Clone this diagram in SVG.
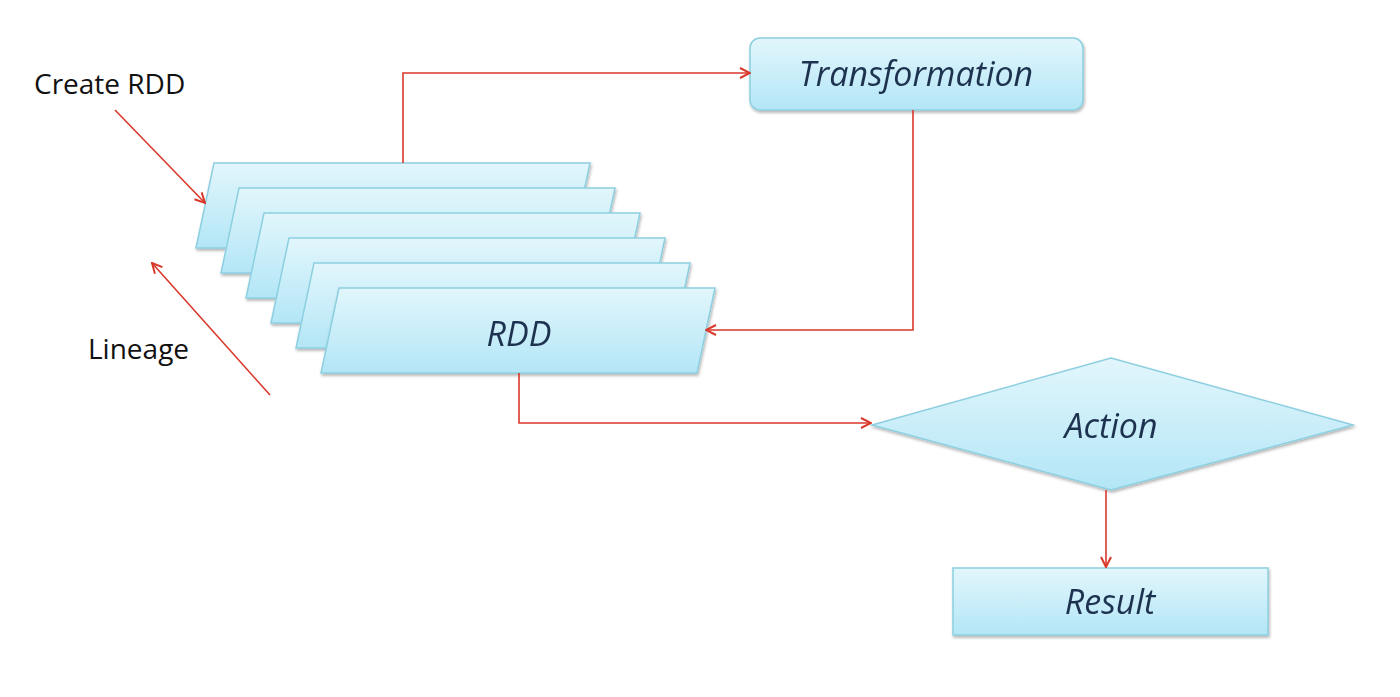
<svg xmlns="http://www.w3.org/2000/svg" width="1400" height="697" viewBox="0 0 1400 697">
<style>
.n{stroke:#8ccfe0;stroke-width:1.5}
.t{font-family:"Open Sans","Liberation Sans",sans-serif;font-style:italic;font-size:34px;fill:#1f3350;text-anchor:middle}
.l{font-family:"Open Sans","Liberation Sans",sans-serif;font-size:28px;fill:#111}
.c{fill:none;stroke:#d9392b;stroke-width:1.6}
</style>
<defs>
<linearGradient id="g" x1="0" y1="0" x2="0" y2="1"><stop offset="0" stop-color="#e2f6fc"/><stop offset="1" stop-color="#b3e6f6"/></linearGradient>
<marker id="a" viewBox="0 0 12 12" refX="11" refY="6" markerWidth="12" markerHeight="12" markerUnits="userSpaceOnUse" orient="auto"><path d="M1,1 L11,6 L1,11" fill="none" stroke="#d9392b" stroke-width="2"/></marker>
<filter id="s"><feDropShadow dx="1" dy="2" stdDeviation="1.5" flood-opacity="0.3"/></filter>
</defs>
<text class="l" x="34" y="94">Create RDD</text>
<text class="l" x="88" y="359">Lineage</text>
<g id="rdd-stack" filter="url(#s)">
<polygon class="n" fill="url(#g)" points="214,163 590,163 572,248 196,248"/>
<polygon class="n" fill="url(#g)" points="239,188 615,188 597,273 221,273"/>
<polygon class="n" fill="url(#g)" points="264,213 640,213 622,298 246,298"/>
<polygon class="n" fill="url(#g)" points="289,238 665,238 647,323 271,323"/>
<polygon class="n" fill="url(#g)" points="314,263 690,263 672,348 296,348"/>
</g>
<g id="rdd" filter="url(#s)">
<polygon class="n" fill="url(#g)" points="339,288 715,288 697,373 321,373"/>
<text class="t" x="519" y="346">RDD</text>
</g>
<g id="transformation" filter="url(#s)">
<rect class="n" fill="url(#g)" x="750" y="38" width="333" height="72" rx="10"/>
<text class="t" x="916" y="86">Transformation</text>
</g>
<g id="action" filter="url(#s)">
<polygon class="n" fill="url(#g)" points="872,425 1111,358 1353,425 1111,490"/>
<text class="t" x="1111" y="438">Action</text>
</g>
<g id="result" filter="url(#s)">
<rect class="n" fill="url(#g)" x="953" y="568" width="315" height="67"/>
<text class="t" x="1110" y="614">Result</text>
</g>
<g id="connectors">
<path class="c" d="M115,110 L205,203" marker-end="url(#a)"/>
<path class="c" d="M270,395 L152,263" marker-end="url(#a)"/>
<path class="c" d="M403,163 V73 H750" marker-end="url(#a)"/>
<path class="c" d="M913,110 V330 H706" marker-end="url(#a)"/>
<path class="c" d="M519,373 V423 H871" marker-end="url(#a)"/>
<path class="c" d="M1106,490 V567" marker-end="url(#a)"/>
</g>
</svg>
